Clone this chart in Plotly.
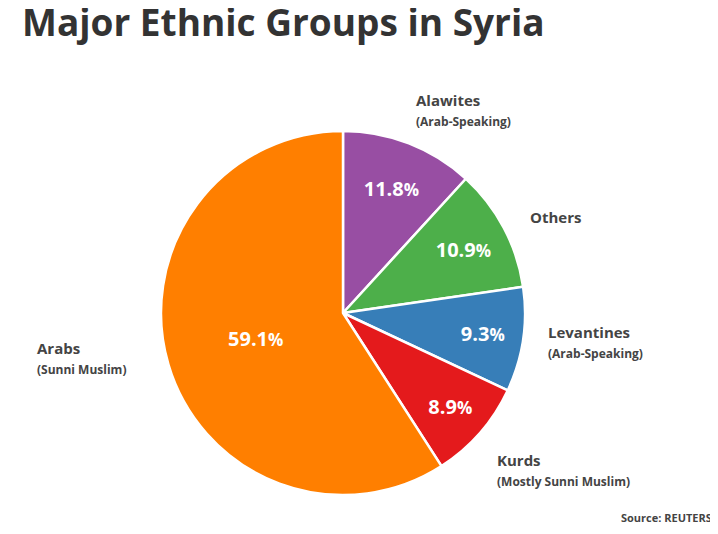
import plotly.graph_objects as go

groups = ["Alawites", "Others", "Levantines", "Kurds", "Arabs"]
subtitles = ["(Arab-Speaking)", "", "(Arab-Speaking)", "(Mostly Sunni Muslim)", "(Sunni Muslim)"]
shares = [11.8, 10.9, 9.3, 8.9, 59.1]
colors = ["#984EA3", "#4DAF4A", "#377EB8", "#E41A1C", "#FF7F00"]

# page body adds an 8px offset, so work in shifted pixel coords
OFF = 8
W, H = 710, 526
cx, cy, r = 343 - OFF, 313 - OFF, 182

inner = [f"{v}<span style='font-size:17px'>%</span>" for v in shares]

fig = go.Figure(go.Pie(
    labels=groups, values=shares, text=inner, textinfo="text",
    sort=False, direction="clockwise", rotation=0,
    marker=dict(colors=colors, line=dict(color="white", width=2.5)),
    textfont=dict(family="Open Sans", size=20, color="white", weight="bold"),
    insidetextorientation="horizontal", showlegend=False, hoverinfo="label+value",
    domain=dict(x=[(cx - r) / W, (cx + r) / W], y=[1 - (cy + r) / H, 1 - (cy - r) / H]),
))

# outside label positions (reference pixels, top-left anchor)
label_pos = [(414, 88), (528, 205), (546, 320), (495, 448), (35, 336)]
anns = []
for name, sub, (px, py) in zip(groups, subtitles, label_pos):
    txt = f"<b>{name}</b>"
    if sub:
        txt += f"<br><span style='font-size:12px'><b>{sub}</b></span>"
    anns.append(dict(x=(px - OFF) / W, y=1 - (py - OFF) / H, xref="paper", yref="paper", text=txt,
                     showarrow=False, xanchor="left", yanchor="top", align="left",
                     font=dict(family="Open Sans", size=15, color="#444", lineposition="none"),
                     ))
anns.append(dict(x=1, y=1 - (508 - OFF) / H, xref="paper", yref="paper", text="<b>Source: REUTERS</b>",
                 showarrow=False, xanchor="right", yanchor="top", xshift=-4,
                 font=dict(family="Open Sans", size=11, color="#444")))

fig.update_layout(
    width=W, height=H, margin=dict(l=0, r=0, t=0, b=0),
    paper_bgcolor="white",
    title=dict(text="<b>Major Ethnic Groups in Syria</b>", x=(22 - OFF) / W, xanchor="left",
               y=1 - (10 - OFF) / H, yanchor="top",
               font=dict(family="Open Sans", size=37, color="#333")),
    annotations=anns,
)

fig.write_html("out.html")
